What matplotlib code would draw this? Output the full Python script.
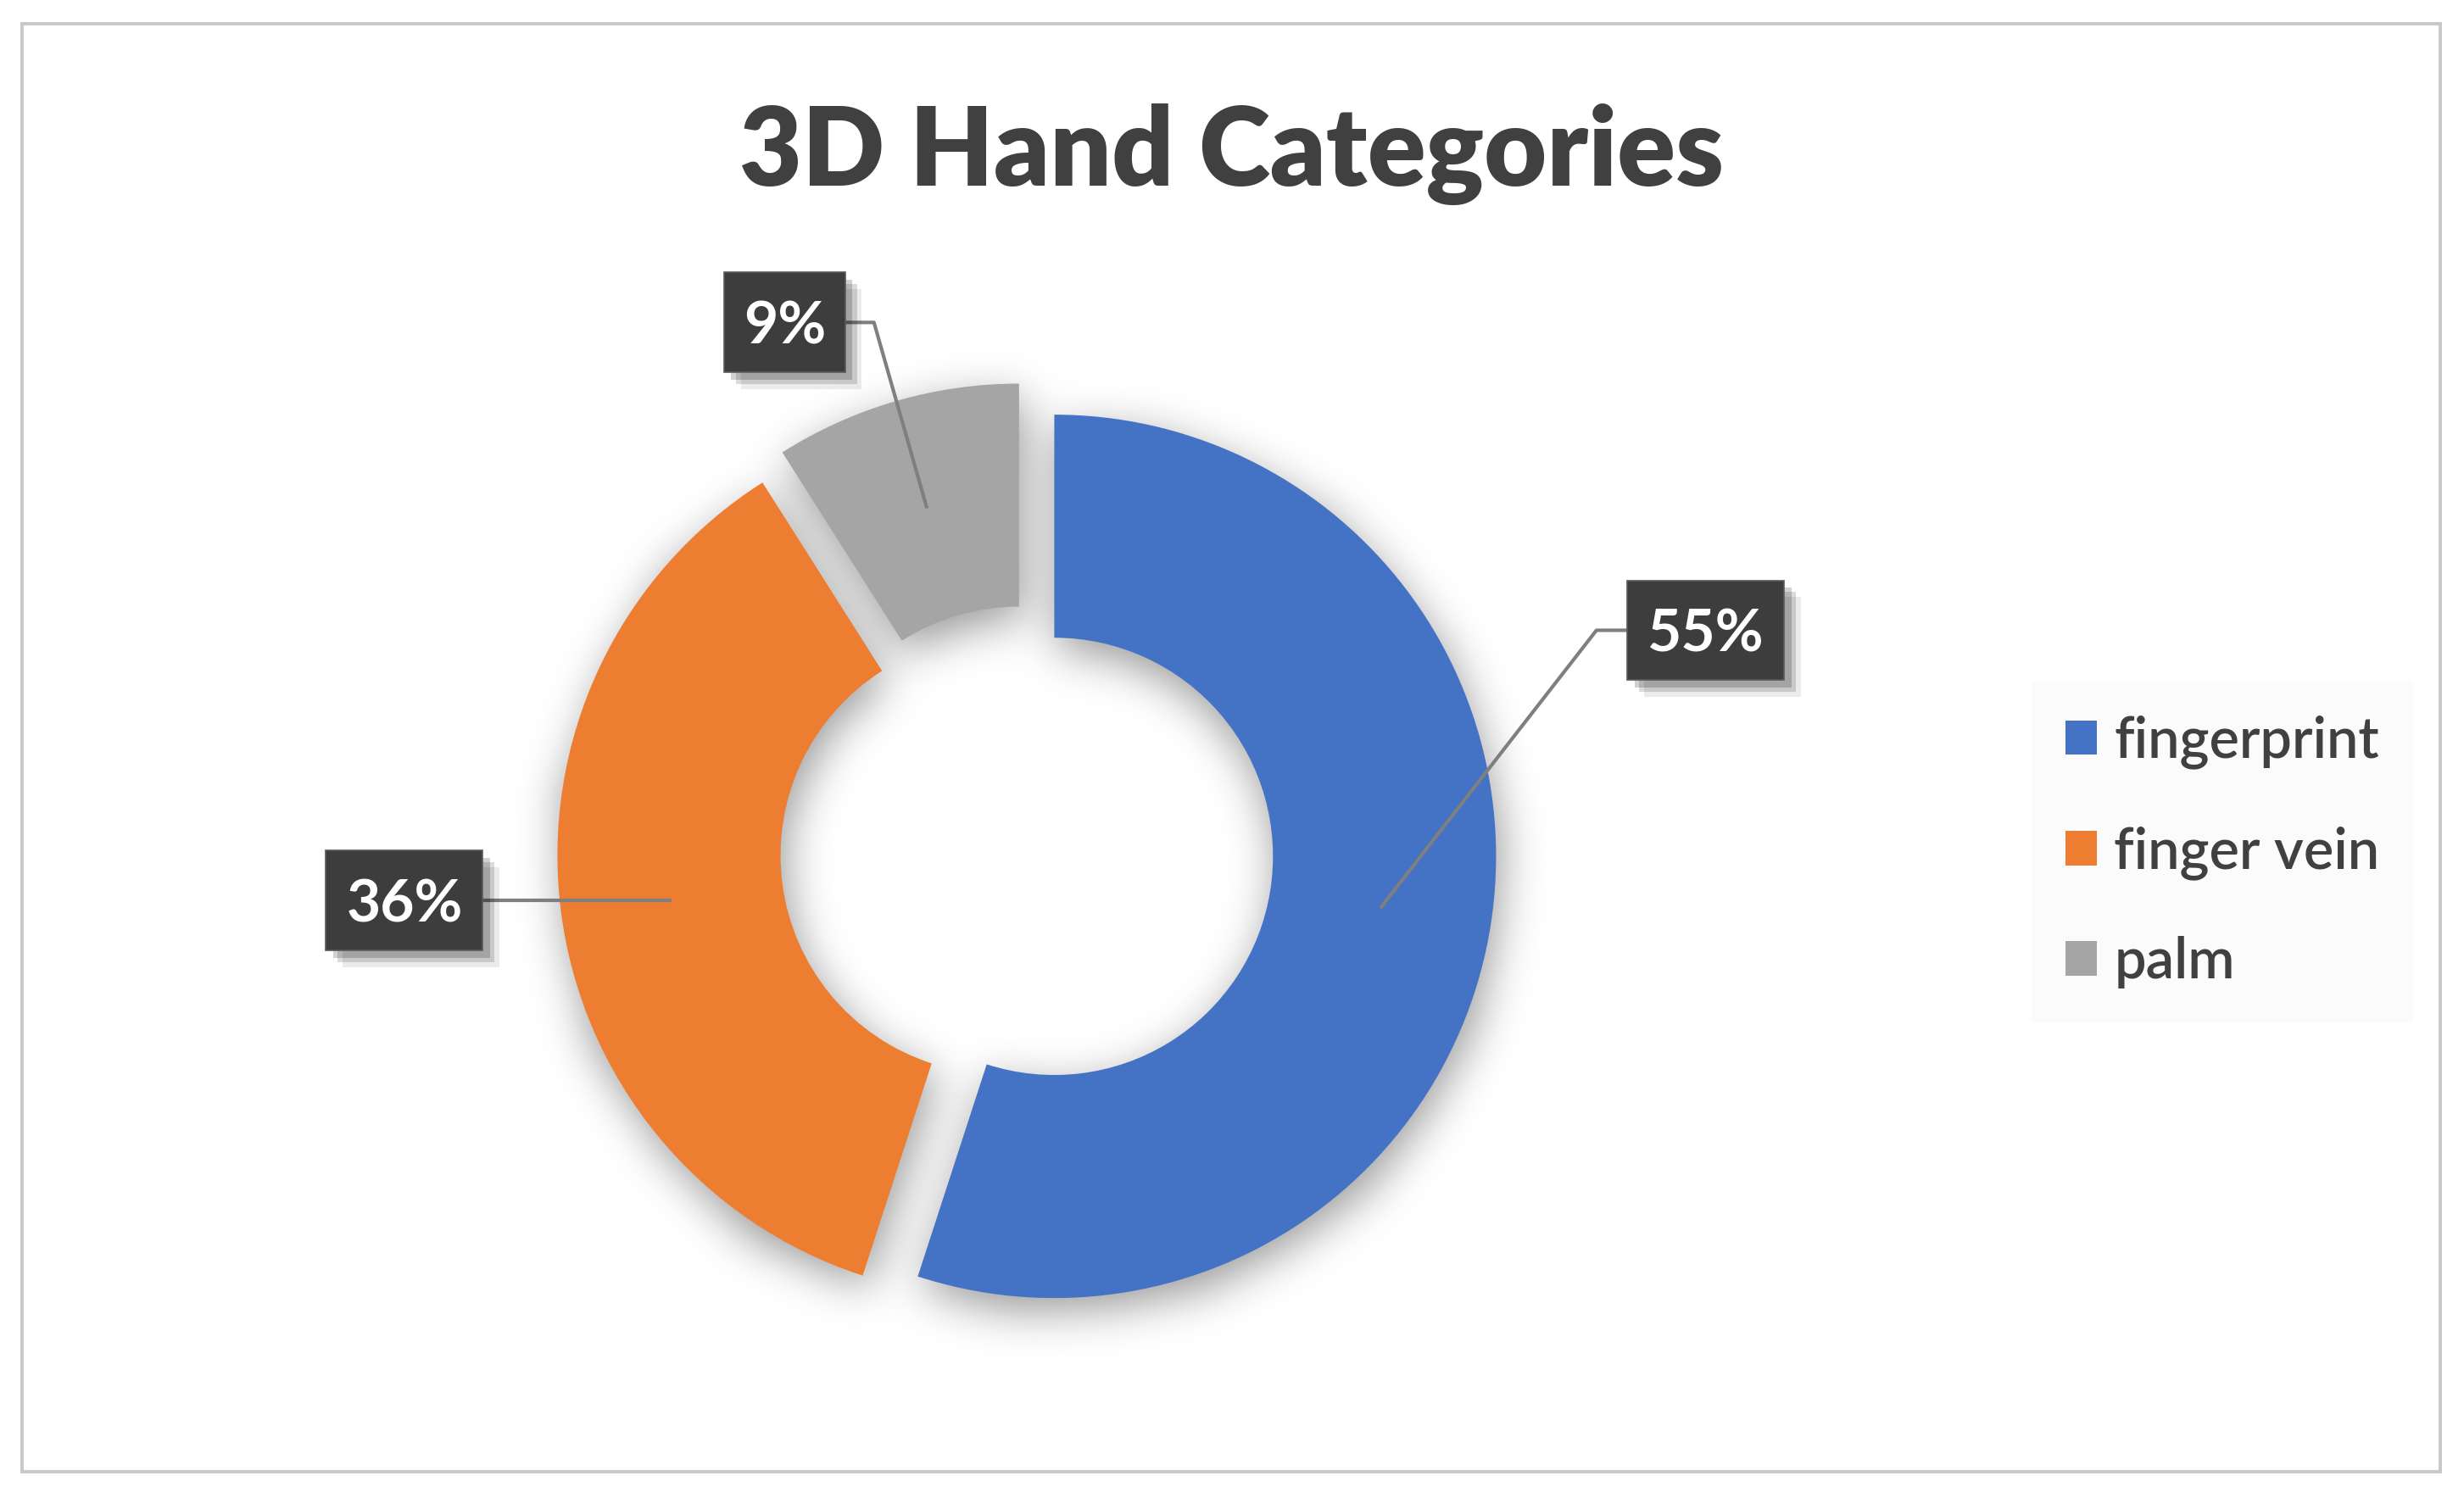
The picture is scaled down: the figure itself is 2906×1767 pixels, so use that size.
import matplotlib
matplotlib.use("Agg")
import matplotlib.pyplot as plt
import matplotlib.patheffects as pe
from matplotlib.patches import Rectangle
import numpy as np

categories = ["fingerprint", "finger vein", "palm"]
shares = [55, 36, 9]
label_texts = ["55%", "36%", "9%"]
colors = ["#4472C4", "#ED7D31", "#A5A5A5"]

plt.rcParams["font.family"] = ["Lato", "DejaVu Sans"]

W, H, DPI = 2906, 1767, 200
fig = plt.figure(figsize=(W / DPI, H / DPI), dpi=DPI)
fig.patch.set_facecolor("white")

# outer chart border
fig.add_artist(Rectangle((26 / W, 1 - 1736 / H), (2878 - 26) / W, (1736 - 28) / H,
                         transform=fig.transFigure, fill=False,
                         edgecolor="#c8c8c8", linewidth=1.4))

ax = fig.add_axes([0, 0, 1, 1])

ring = 0.505
expl = [0.063] * len(shares)

wedges, _ = ax.pie(shares, radius=1, explode=expl, startangle=90,
                   counterclock=False, colors=colors,
                   wedgeprops=dict(width=ring, linewidth=0, zorder=2))

# soft drop shadow: blur the wedge shapes
n = 900
g = np.linspace(-1.6, 1.6, n)
X, Y = np.meshgrid(g, g)
pts = np.column_stack([X.ravel(), Y.ravel()])
mask = np.zeros(n * n)
for w in wedges:
    mask = np.maximum(mask, w.get_path().contains_points(pts).astype(float))
mask = mask.reshape(n, n)
sigma = 0.05 / (g[1] - g[0])
kx = np.arange(-int(3 * sigma), int(3 * sigma) + 1)
kern = np.exp(-0.5 * (kx / sigma) ** 2)
kern /= kern.sum()
blur = np.apply_along_axis(lambda r: np.convolve(r, kern, mode="same"), 1, mask)
blur = np.apply_along_axis(lambda c: np.convolve(c, kern, mode="same"), 0, blur)
shadow = np.zeros((n, n, 4))
shadow[..., 3] = 0.4 * blur
dx, dy = 0.008, -0.03
ax.imshow(shadow, extent=(g[0] + dx, g[-1] + dx, g[0] + dy, g[-1] + dy),
          origin="lower", interpolation="bilinear", zorder=1)

# pie()/imshow() reset the limits, so fix them afterwards (1 unit = R_px pixels)
R_px = 521
cx, cy = 1211, 1005
ax.set_xlim(-cx / R_px, (W - cx) / R_px)
ax.set_ylim(-(H - cy) / R_px, cy / R_px)
ax.set_aspect("equal")
ax.axis("off")

# data labels: box centres (radius units), box widths, elbow length
label_pos = [(1.537, 0.502), (-1.409, -0.11), (-0.548, 1.199)]
box_w = [0.355, 0.355, 0.274]
box_h = 0.226
elbow = [-0.07, 0.0, 0.065]

total = sum(shares)
start = 90.0
for k, (v, txt) in enumerate(zip(shares, label_texts)):
    mid = start - v / total * 360 / 2
    start -= v / total * 360
    th = np.deg2rad(mid)
    rr = 1 - ring / 2 + expl[k]
    px, py = rr * np.cos(th), rr * np.sin(th)
    lx, ly = label_pos[k]
    side = 1 if lx > px else -1
    edge_x = lx - side * box_w[k] / 2
    xs = [edge_x]
    ys = [ly]
    if elbow[k] != 0:
        xs.append(edge_x + elbow[k])
        ys.append(ly)
    else:
        py = ly
    xs.append(px)
    ys.append(py)
    ax.plot(xs, ys, color="#7f7f7f", linewidth=1.5, solid_capstyle="butt", zorder=3)
    box = Rectangle((lx - box_w[k] / 2, ly - box_h / 2), box_w[k], box_h,
                    facecolor="#3d3d3d", edgecolor="#5a5a5a", linewidth=0.6, zorder=4)
    box.set_path_effects([
        pe.SimplePatchShadow(offset=(7, -7), shadow_rgbFace="black", alpha=0.08),
        pe.SimplePatchShadow(offset=(5, -5), shadow_rgbFace="black", alpha=0.14),
        pe.SimplePatchShadow(offset=(3, -3), shadow_rgbFace="black", alpha=0.18),
        pe.Normal()])
    ax.add_patch(box)
    ax.text(lx, ly, txt, ha="center", va="center_baseline", color="white",
            fontsize=25, fontweight="bold", zorder=5)

fig.text(1453 / W, 1 - 182 / H, "3D Hand Categories", ha="center", va="center",
         fontsize=46, fontweight="heavy", color="#404040")

leg = fig.legend(wedges, categories, loc="center left",
                 bbox_to_anchor=(2396 / W, 1 - 1005 / H), frameon=True,
                 fontsize=24, handlelength=0.56, handleheight=0.56,
                 handletextpad=0.3, labelspacing=1.0, borderpad=0.6,
                 borderaxespad=0, fancybox=False)
leg.get_frame().set_facecolor("#fafafa")
leg.get_frame().set_edgecolor("none")
for t in leg.get_texts():
    t.set_color("#404040")
    t.set_fontweight("semibold")

fig.savefig("out.png", dpi=DPI, facecolor="white")
